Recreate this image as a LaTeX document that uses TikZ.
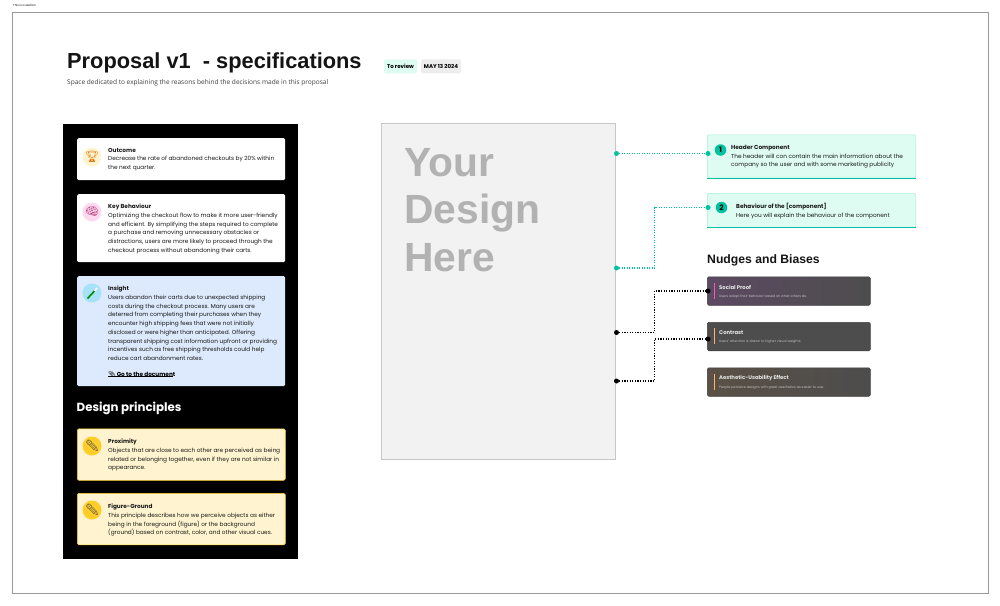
\documentclass[tikz,border=0pt]{standalone}
\usepackage{fontspec}
\setmainfont{Poppins}
\newfontfamily\headfont{Liberation Sans}
\newfontfamily\subfont{Open Sans}
\newfontfamily\emojifont{Noto Emoji}
\usetikzlibrary{positioning,calc}
\definecolor{mintfill}{HTML}{DFFCF3}
\definecolor{mintedge}{HTML}{A9EFDC}
\definecolor{tealmain}{HTML}{00C2A0}
\definecolor{bluefill}{HTML}{DDE9FC}
\definecolor{creamfill}{HTML}{FFF4CF}
\definecolor{creamedge}{HTML}{FFCD29}
\definecolor{darkcard}{HTML}{4D4D4D}
\definecolor{darkpurple}{HTML}{5C4A62}
\definecolor{darkbrown}{HTML}{5A5045}
\tikzset{
    card/.style={anchor=north west, rounded corners=1.5pt, inner sep=0pt, minimum width=208pt},
    cardtext/.style={anchor=north west, align=left, inner sep=0pt, yshift=-0.8pt, text=black!90, font=\fontsize{5.78}{8.75}\selectfont},
    icon/.style={circle, inner sep=0pt, minimum size=19pt, font=\emojifont\fontsize{11}{11}\selectfont},
    darkbox/.style={anchor=north west, rounded corners=1.5pt, draw=black!75, inner sep=0pt, minimum width=163pt, right color=darkcard, line width=0.6pt},
    darktitle/.style={anchor=west, inner sep=0pt, text=white!90!black, font=\bfseries\fontsize{5.3}{7}\selectfont},
    darktext/.style={anchor=west, inner sep=0pt, text=white!75!black, font=\fontsize{3.35}{4}\selectfont},
    tealdot/.style={circle, fill=tealmain, inner sep=0pt, minimum size=5pt},
    blackdot/.style={circle, fill=black, inner sep=0pt, minimum size=5pt},
    tealline/.style={draw=tealmain, line width=1.1pt, dash pattern=on 1.1pt off 1.4pt},
    blackline/.style={draw=black, line width=1.2pt, dash pattern=on 1.2pt off 1.4pt},
    badge/.style={rounded corners=1.5pt, inner sep=0pt, minimum height=14pt, font=\bfseries\fontsize{5.5}{7}\selectfont}
}
\begin{document}
\begin{tikzpicture}[x=1pt, y=-1pt]
    \useasboundingbox [fill=white] (0,0) rectangle (1000,605);
    \draw [draw=black!40, line width=0.7pt] (12,12) rectangle (988,593); % Section frame
    \node [anchor=west, inner sep=0pt, font=\fontsize{2.9}{4}\selectfont] (sectionlabel) at (13,5) {This is a section};

    % Heading
    \node [anchor=base west, inner sep=0pt, text=black!92, font=\headfont\bfseries\fontsize{21.8}{28}\selectfont] (title) at (67,68.5) {Proposal v1\ \ - specifications};
    \node [anchor=base west, inner sep=0pt, text=black!75, font=\subfont\fontsize{6.55}{8}\selectfont] (subtitle) at (67,84.5) {Space dedicated to explaining the reasons behind the decisions made in this proposal};
    \node [badge, fill=mintfill, minimum width=33pt] (reviewbadge) at (400.5,66.3) {To review};
    \node [badge, fill=black!7, minimum width=40pt] (datebadge) at (441,66.3) {MAY 13 2024};

    % Left panel
    \fill [black] (63,124) rectangle (298,559);
    \node [card, fill=white, minimum height=42pt] (outcomecard) at (77,138) {};
    \node [icon, fill=creamfill, text=orange!85!black] (outcomeicon) at (92,157) {🏆};
    \node [cardtext] (outcometext) at (108,147) {\textbf{Outcome}\\Decrease the rate of abandoned checkouts by 20\% within\\the next quarter.};
    \node [card, fill=white, minimum height=68pt] (behaviourcard) at (77,194) {};
    \node [icon, fill=magenta!15, text=magenta!70!black] (behaviouricon) at (92,212) {🧠};
    \node [cardtext] (behaviourtext) at (108,203) {\textbf{Key Behaviour}\\Optimizing the checkout flow to make it more user-friendly\\and efficient. By simplifying the steps required to complete\\a purchase and removing unnecessary obstacles or\\distractions, users are more likely to proceed through the\\checkout process without abandoning their carts.};
    \node [card, fill=bluefill, minimum height=110pt] (insightcard) at (77,276) {};
    \node [icon, fill=cyan!35] (insighticon) at (92,293) {};
    \draw [draw=green!55!black, line width=1.6pt] (87.5,298.5) -- (94.5,291); % Wand
    \draw [draw=white, line width=1.6pt] (94.5,291) -- (97,288);
    \node [cardtext] (insighttext) at (108,285) {\textbf{Insight}\\Users abandon their carts due to unexpected shipping\\costs during the checkout process. Many users are\\deterred from completing their purchases when they\\encounter high shipping fees that were not initially\\disclosed or were higher than anticipated. Offering\\transparent shipping cost information upfront or providing\\incentives such as free shipping thresholds could help\\reduce cart abandonment rates.};
    \node [cardtext, text=black] (doclink) at (108,370) {{\emojifont\fontsize{6}{8}\selectfont 📎}\textbf{\,Go to the document}};
    \draw [black, line width=0.4pt] (108,376.5) -- (173,376.5);
    \node [anchor=base west, inner sep=0pt, text=white, font=\bfseries\fontsize{11.8}{14}\selectfont] (principleshead) at (76.5,411.5) {Design principles};
    \node [card, fill=creamfill, draw=creamedge, line width=0.6pt, minimum height=51.5pt] (proximitycard) at (77,428.5) {};
    \node [icon, fill=creamedge, text=black!70] (proximityicon) at (92,446) {✏};
    \node [cardtext] (proximitytext) at (108,438) {\textbf{Proximity}\\Objects that are close to each other are perceived as being\\related or belonging together, even if they are not similar in\\appearance.};
    \node [card, fill=creamfill, draw=creamedge, line width=0.6pt, minimum height=51.5pt] (figurecard) at (77,493) {};
    \node [icon, fill=creamedge, text=black!70] (figureicon) at (92,510) {✏};
    \node [cardtext] (figuretext) at (108,503) {\textbf{Figure-Ground}\\This principle describes how we perceive objects as either\\being in the foreground (figure) or the background\\(ground) based on contrast, color, and other visual cues.};

    % Design placeholder
    \draw [draw=black!22, fill=black!5, line width=0.7pt] (381,123) rectangle (615.5,459.5);
    \node [anchor=north west, align=left, inner sep=0pt, text=black!30, font=\headfont\bfseries\fontsize{40.8}{47.5}\selectfont] (placeholder) at (404,148) {Your\\Design\\Here};

    % Component cards
    \node [card, fill=mintfill, draw=mintedge, line width=0.6pt, minimum width=208.5pt, minimum height=43pt] (headercard) at (707,134.5) {};
    \draw [draw=tealmain, line width=1.2pt] (headercard.south west) -- (headercard.south east);
    \node [circle, fill=tealmain, inner sep=0pt, minimum size=11.5pt, font=\bfseries\fontsize{7.5}{8}\selectfont] (headerbadge) at (720.5,150) {1};
    \node [cardtext] (headertext) at (731,144) {\textbf{Header Component}\\The header will con contain the main information about the\\company so the user and with some marketing publicity};
    \node [card, fill=mintfill, draw=mintedge, line width=0.6pt, minimum width=208.5pt, minimum height=34pt] (behavcard) at (707,193) {};
    \draw [draw=tealmain, line width=1.2pt] (behavcard.south west) -- (behavcard.south east);
    \node [circle, fill=tealmain, inner sep=0pt, minimum size=11.5pt, font=\bfseries\fontsize{7.5}{8}\selectfont] (behavbadge) at (721.5,207.5) {2};
    \node [cardtext] (behavtext) at (736,202.5) {\textbf{Behaviour of the [component]}\\Here you will explain the behaviour of the component};

    % Nudges
    \node [anchor=base west, inner sep=0pt, text=black!92, font=\headfont\bfseries\fontsize{12.2}{14}\selectfont] (nudgeshead) at (707,263.5) {Nudges and Biases};
    \node [darkbox, left color=darkpurple, minimum height=28.5pt] (proofcard) at (707,276.5) {};
    \fill [magenta!65!white] (713.5,283) rectangle (714.7,299);
    \node [darktitle] (prooftitle) at (719,287) {Social Proof};
    \node [darktext] (prooftext) at (719,296.7) {Users adapt their behavior based on what others do.};
    \node [darkbox, left color=darkcard, minimum height=28.5pt] (contrastcard) at (707,322) {};
    \fill [orange!60!white] (713.5,328) rectangle (714.7,344);
    \node [darktitle] (contrasttitle) at (719,332.3) {Contrast};
    \node [darktext] (contrasttext) at (719,342) {Users' attention is drawn to higher visual weights.};
    \node [darkbox, left color=darkbrown, minimum height=28.5pt] (aestheticcard) at (707,367.5) {};
    \fill [orange!60!white] (713.5,373.5) rectangle (714.7,390);
    \node [darktitle] (aesthetictitle) at (719,378) {Aesthetic-Usability Effect};
    \node [darktext] (aesthetictext) at (719,387.5) {People perceive designs with great aesthetics as easier to use.};

    % Connectors
    \node [tealdot] (dotone) at (616.5,153.5) {};
    \node [tealdot] (dotonend) at (708,153.5) {};
    \node [tealdot] (dottwo) at (616.5,268) {};
    \node [tealdot] (dottwoend) at (708,207.5) {};
    \node [blackdot] (dotthree) at (616.5,332.5) {};
    \node [blackdot] (dotthreeend) at (708,291) {};
    \node [blackdot] (dotfour) at (616.5,381) {};
    \node [blackdot] (dotfourend) at (708,339) {};
    \draw [tealline] (dotone) -- (dotonend);
    \draw [tealline] (dottwo) -- ++(38,0) |- (dottwoend);
    \draw [blackline] (dotthree) -- ++(38,0) |- (dotthreeend);
    \draw [blackline] (dotfour) -- ++(38,0) |- (dotfourend);
\end{tikzpicture}
\end{document}
